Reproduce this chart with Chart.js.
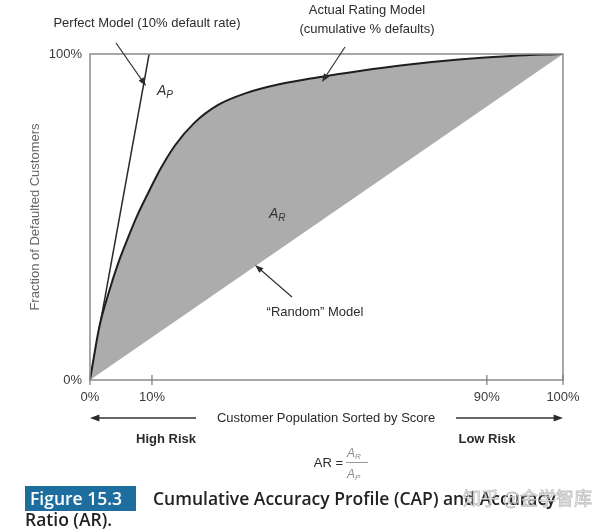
<!DOCTYPE html>
<html>
<head>
<meta charset="utf-8">
<title>Cumulative Accuracy Profile</title>
<script src="https://cdn.jsdelivr.net/npm/chart.js@4.4.1/dist/chart.umd.min.js"></script>
<style>
  html, body { margin: 0; padding: 0; background: #fff; }
  #wrap { width: 600px; height: 531px; position: relative; }
</style>
</head>
<body>
<div id="wrap"><canvas id="capChart" width="600" height="531"></canvas></div>
<script>
// Actual rating model (cumulative % defaults)
const curveX = [0, 2, 4, 6, 8, 10, 12, 15, 18, 22, 27, 33, 40, 48, 57, 67, 78, 89, 100];
const curveY = [0, 16.5, 27, 36, 43.5, 50.5, 56.5, 65, 72, 78.8, 84.3, 88, 90.7, 92.8, 94.8, 96.7, 98.3, 99.4, 100];

// Perfect model (10% default rate) and the "random" diagonal
const perfectX = [0, 12.5];
const perfectY = [0, 100];
const randomX = [0, 100];
const randomY = [0, 100];

// Tick marks (the figure is schematic, so 10% / 90% sit where the book drew them)
const xTickPos = [0, 13.1, 83.9, 100];
const xTickLabels = ['0%', '10%', '90%', '100%'];
const yTickPos = [0, 100];
const yTickLabels = ['0%', '100%'];

const FONT = '"Liberation Sans", Arial, sans-serif';
const TEXT = '#2b2b2b';

function toPoints(xs, ys) {
  return xs.map((x, i) => ({ x: x, y: ys[i] }));
}

function arrow(ctx, x1, y1, x2, y2, head) {
  const ang = Math.atan2(y2 - y1, x2 - x1);
  const h = head || 8;
  ctx.beginPath();
  ctx.moveTo(x1, y1);
  ctx.lineTo(x2 - Math.cos(ang) * h * 0.6, y2 - Math.sin(ang) * h * 0.6);
  ctx.stroke();
  ctx.beginPath();
  ctx.moveTo(x2, y2);
  ctx.lineTo(x2 - h * Math.cos(ang - 0.35), y2 - h * Math.sin(ang - 0.35));
  ctx.lineTo(x2 - h * Math.cos(ang + 0.35), y2 - h * Math.sin(ang + 0.35));
  ctx.closePath();
  ctx.fill();
}

// A with italic subscript (A_P, A_R)
function areaLabel(ctx, x, y, sub, size, color) {
  ctx.fillStyle = color;
  ctx.textAlign = 'left';
  ctx.textBaseline = 'alphabetic';
  ctx.font = 'italic ' + size + 'px ' + FONT;
  ctx.fillText('A', x, y);
  const w = ctx.measureText('A').width;
  ctx.font = 'italic ' + Math.round(size * 0.68) + 'px ' + FONT;
  ctx.fillText(sub, x + w, y + size * 0.2);
}

// Frame, tick marks and all the annotation text of the figure
const annotations = {
  id: 'annotations',
  afterDraw(chart) {
    const { ctx, chartArea: a, scales } = chart;
    ctx.save();

    // plot frame
    ctx.strokeStyle = '#8a8a8a';
    ctx.lineWidth = 1.5;
    ctx.strokeRect(a.left, a.top, a.right - a.left, a.bottom - a.top);

    // x tick marks crossing the axis
    ctx.strokeStyle = '#7a7a7a';
    ctx.lineWidth = 1.2;
    xTickPos.forEach(v => {
      const px = scales.x.getPixelForValue(v);
      ctx.beginPath();
      ctx.moveTo(px, a.bottom - 5);
      ctx.lineTo(px, a.bottom + 5);
      ctx.stroke();
    });

    ctx.fillStyle = TEXT;
    ctx.strokeStyle = '#333';
    ctx.lineWidth = 1.2;
    ctx.font = '13px ' + FONT;
    ctx.textAlign = 'center';
    ctx.textBaseline = 'middle';

    // top labels
    ctx.fillText('Perfect Model (10% default rate)', 147, 23);
    ctx.fillText('Actual Rating Model', 367, 10);
    ctx.fillText('(cumulative % defaults)', 367, 29);
    arrow(ctx, 116, 43, 146, 86, 9);
    arrow(ctx, 345, 47, 322, 82, 9);

    // "Random" model label
    ctx.fillText('\u201CRandom\u201D Model', 315, 312);
    arrow(ctx, 292, 297, 255, 265, 9);

    // area labels
    areaLabel(ctx, 157, 95, 'P', 14, '#333');
    areaLabel(ctx, 269, 218, 'R', 14, '#333');

    // x axis caption with arrows
    const ly = 418;
    ctx.fillStyle = TEXT;
    ctx.font = '13px ' + FONT;
    ctx.textAlign = 'center';
    ctx.textBaseline = 'middle';
    ctx.fillText('Customer Population Sorted by Score', 326, ly);
    ctx.lineWidth = 1.4;
    arrow(ctx, 196, ly, a.left, ly, 10);
    arrow(ctx, 456, ly, a.right, ly, 10);

    ctx.font = 'bold 13px ' + FONT;
    ctx.fillText('High Risk', 166, 439);
    ctx.fillText('Low Risk', 487, 439);

    // AR = A_R / A_P
    ctx.font = '13px ' + FONT;
    ctx.textAlign = 'right';
    ctx.fillText('AR =', 343, 463);
    areaLabel(ctx, 347, 457, 'R', 12, '#8c8c8c');
    areaLabel(ctx, 347, 478, 'P', 12, '#8c8c8c');
    ctx.strokeStyle = '#9a9a9a';
    ctx.lineWidth = 1;
    ctx.beginPath();
    ctx.moveTo(346, 462.5);
    ctx.lineTo(368, 462.5);
    ctx.stroke();

    // figure caption
    ctx.fillStyle = '#1d6e9e';
    ctx.fillRect(25, 486, 111, 25);
    ctx.textBaseline = 'alphabetic';
    ctx.fillStyle = '#ffffff';
    ctx.font = '600 17.5px "Open Sans", sans-serif';
    ctx.textAlign = 'left';
    ctx.fillText('Figure 15.3', 30, 505);
    ctx.fillStyle = '#222';
    ctx.fillText('Cumulative Accuracy Profile (CAP) and Accuracy', 153, 505);
    ctx.fillText('Ratio (AR).', 25, 526);

    // site watermark over the caption
    ctx.font = '18px "Noto Sans CJK SC", sans-serif';
    ctx.lineWidth = 0.8;
    ctx.strokeStyle = 'rgba(120,120,120,0.45)';
    ctx.fillStyle = 'rgba(245,245,245,0.88)';
    ctx.fillText('\u77E5\u4E4E @\u91D1\u5B66\u667A\u5E93', 463, 505);
    ctx.strokeText('\u77E5\u4E4E @\u91D1\u5B66\u667A\u5E93', 463, 505);

    ctx.restore();
  }
};

new Chart(document.getElementById('capChart'), {
  type: 'line',
  data: {
    datasets: [
      {
        label: 'Actual Rating Model',
        data: toPoints(curveX, curveY),
        borderColor: '#1e1e1e',
        borderWidth: 2,
        backgroundColor: '#acacac',
        fill: 1,
        cubicInterpolationMode: 'monotone',
        pointRadius: 0
      },
      {
        label: 'Random Model',
        data: toPoints(randomX, randomY),
        borderWidth: 0,
        borderColor: 'rgba(0,0,0,0)',
        fill: false,
        pointRadius: 0
      },
      {
        label: 'Perfect Model',
        data: toPoints(perfectX, perfectY),
        borderColor: '#2a2a2a',
        borderWidth: 1.5,
        fill: false,
        pointRadius: 0
      }
    ]
  },
  options: {
    responsive: false,
    animation: false,
    devicePixelRatio: 1,
    layout: { padding: { left: 0, top: 54, right: 37, bottom: 121 } },
    plugins: {
      legend: { display: false },
      tooltip: { enabled: false }
    },
    scales: {
      x: {
        type: 'linear',
        min: 0,
        max: 100,
        grid: { display: false, drawTicks: false },
        border: { display: false },
        afterBuildTicks: scale => { scale.ticks = xTickPos.map(v => ({ value: v })); },
        afterFit: scale => { scale.height = 30; },
        ticks: {
          padding: 10,
          maxRotation: 0,
          autoSkip: false,
          color: '#3a3a3a',
          font: { family: FONT, size: 13 },
          callback: (value, index) => xTickLabels[index]
        }
      },
      y: {
        min: 0,
        max: 100,
        grid: { display: false, drawTicks: false },
        border: { display: false },
        afterBuildTicks: scale => { scale.ticks = yTickPos.map(v => ({ value: v })); },
        afterFit: scale => { scale.width = 90; },
        ticks: {
          padding: 8,
          autoSkip: false,
          color: '#3a3a3a',
          font: { family: FONT, size: 13 },
          callback: (value, index) => yTickLabels[index]
        },
        title: {
          display: true,
          text: 'Fraction of Defaulted Customers',
          color: '#666',
          font: { family: FONT, size: 13 },
          padding: { top: 28, bottom: 0 }
        }
      }
    }
  },
  plugins: [annotations]
});
</script>
</body>
</html>
